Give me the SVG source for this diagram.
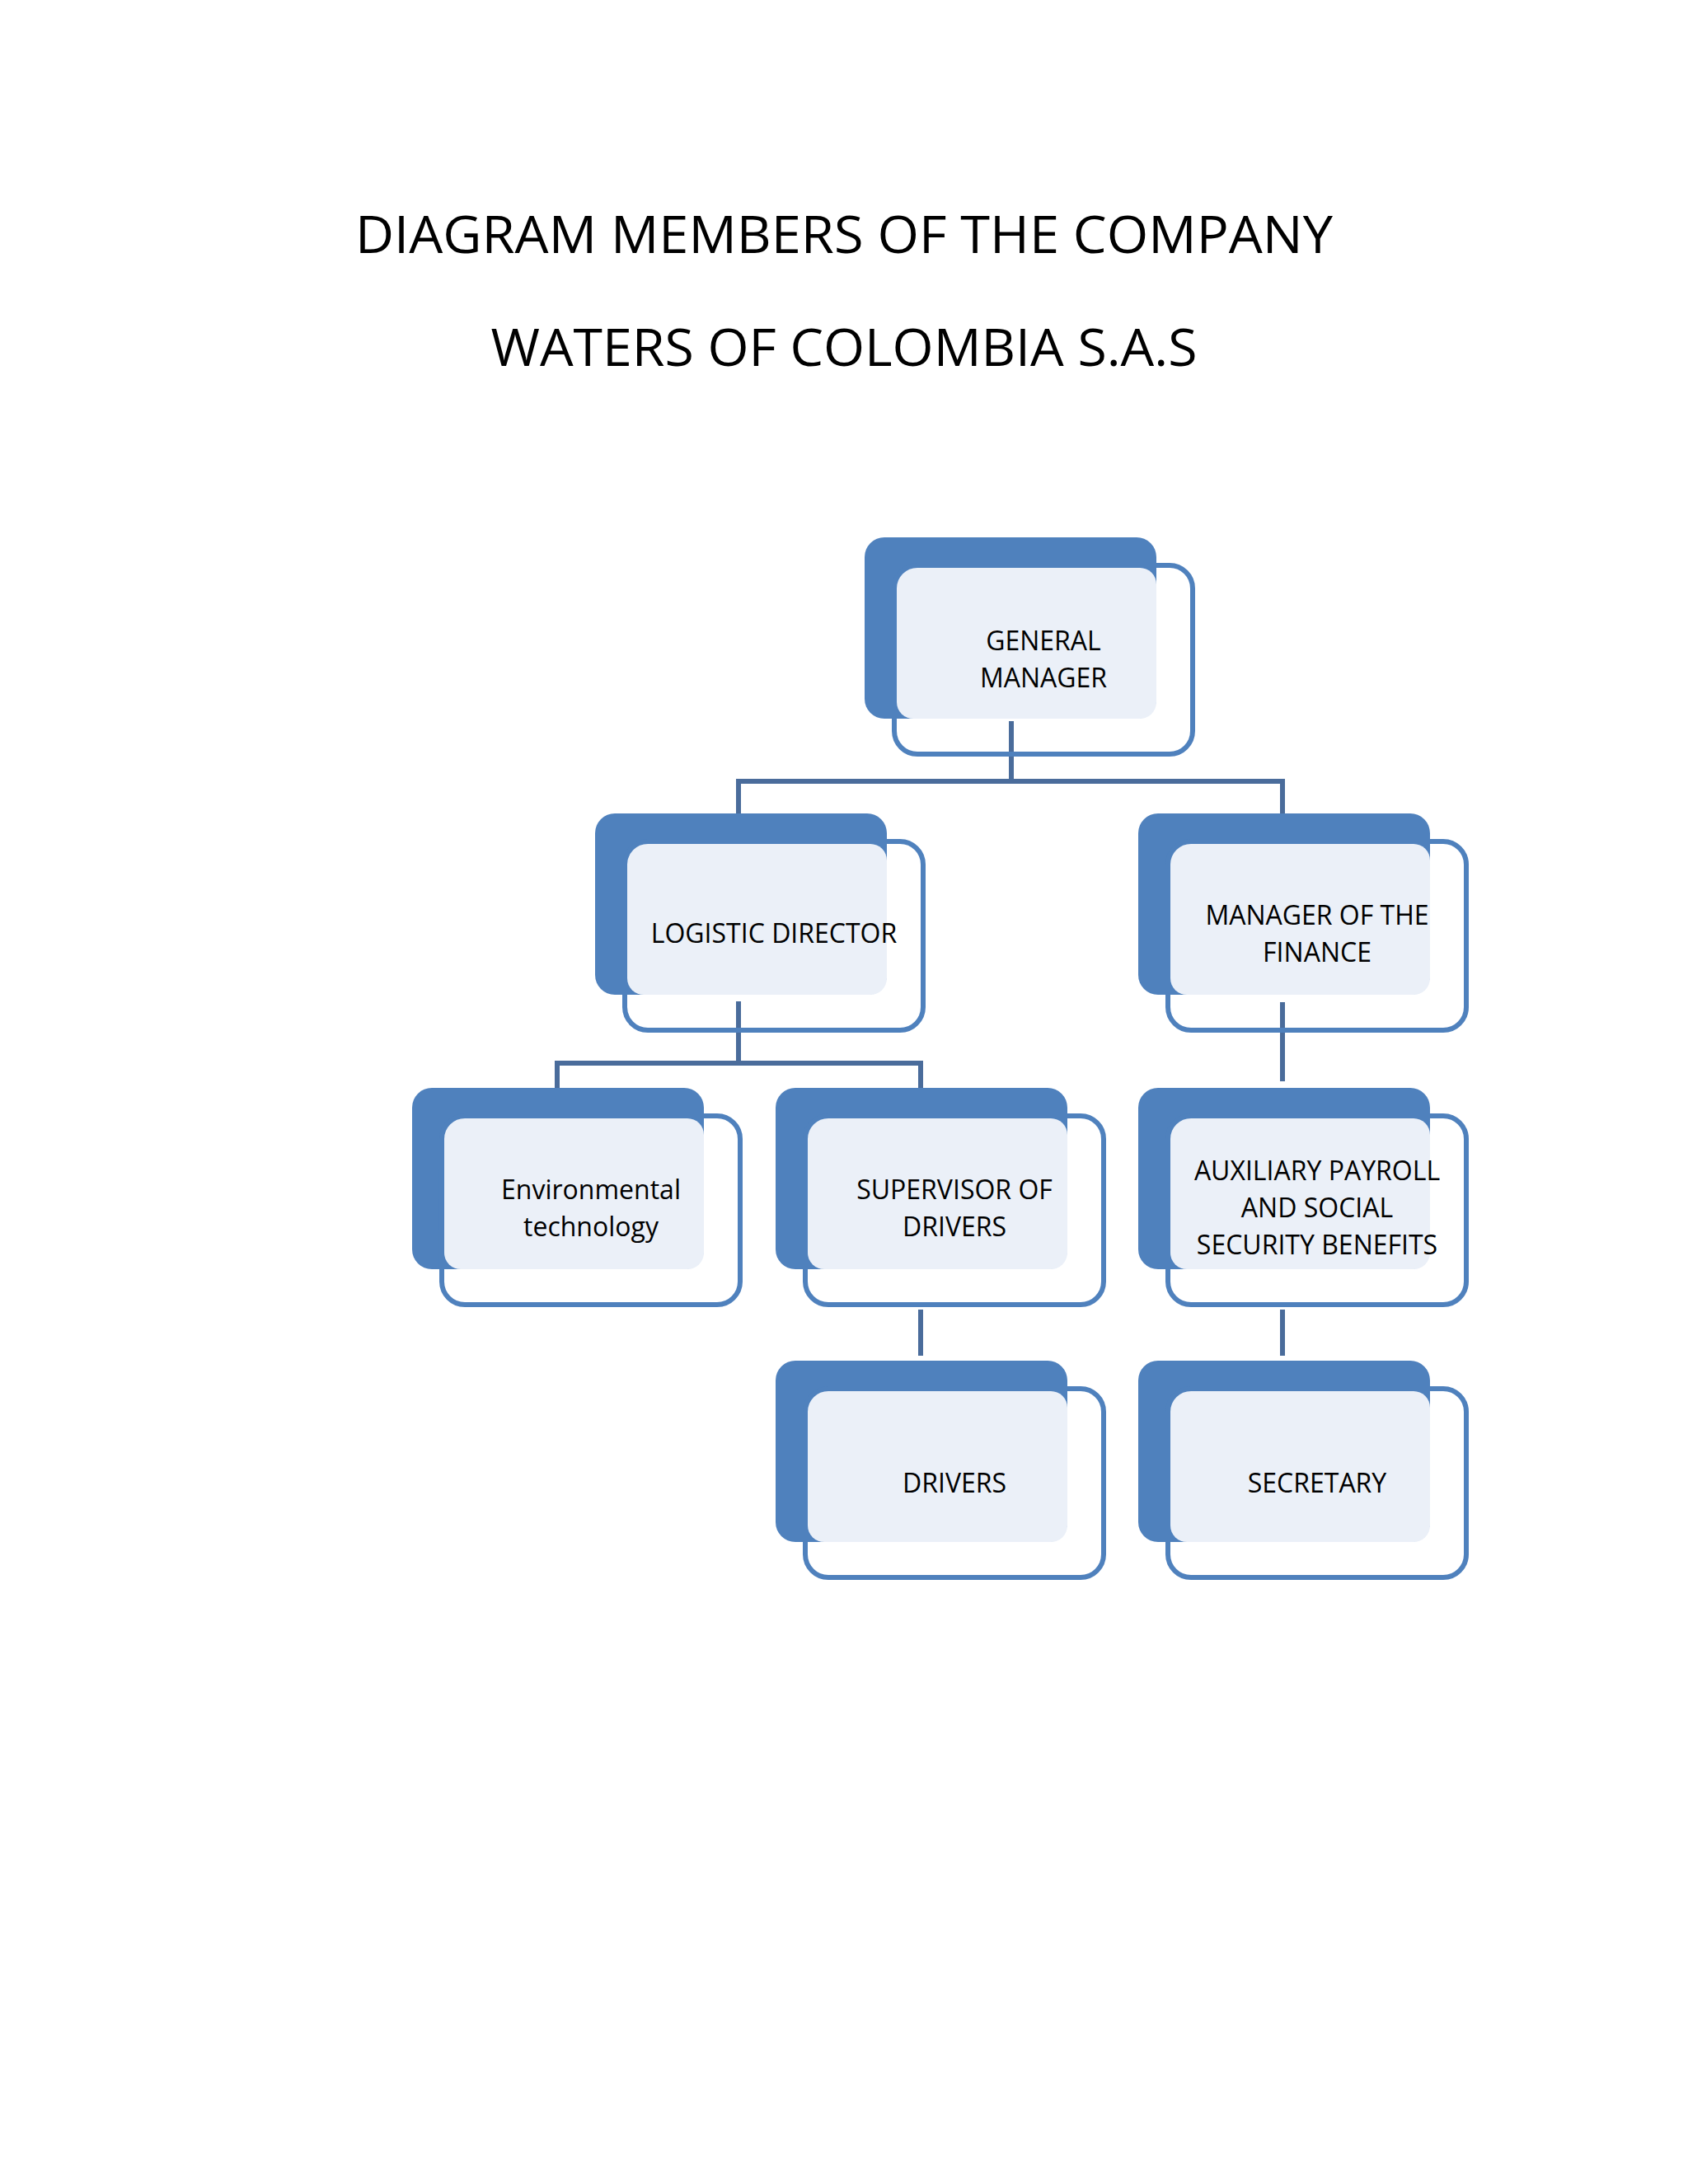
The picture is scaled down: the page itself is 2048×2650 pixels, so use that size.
<svg xmlns="http://www.w3.org/2000/svg" width="2048" height="2650" viewBox="0 0 2048 2650">
<style>
.back{fill:#4f81bd}
.lite{fill:#ebf0f8}
.front{fill:none;stroke:#4f81bd;stroke-width:6}
.t{font-family:"Open Sans","DejaVu Sans",sans-serif;font-size:32px;fill:#000;text-anchor:middle}
.title{font-family:"Open Sans","DejaVu Sans",sans-serif;font-size:62px;fill:#000;text-anchor:middle}
.c{fill:none;stroke:#4a6c9b;stroke-width:6}
</style>
<defs>
<g id="box">
<rect class="back" x="0" y="0" width="354" height="220" rx="24"/>
<rect class="lite" x="39" y="37" width="315" height="183" rx="20"/>
<rect class="front" x="36" y="34" width="362" height="229" rx="28"/>
</g>
</defs>
<rect width="2048" height="2650" fill="#fff"/>
<text class="title" x="1024" y="307" textLength="1186" lengthAdjust="spacingAndGlyphs">DIAGRAM MEMBERS OF THE COMPANY</text>
<text class="title" x="1024" y="444" textLength="857" lengthAdjust="spacingAndGlyphs">WATERS OF COLOMBIA S.A.S</text>
<g id="connectors">
<path class="c" d="M1227 875V948M896 987V948H1556V987"/>
<path class="c" d="M896 1215V1290M676 1320V1290H1117V1320"/>
<path class="c" d="M1556 1216V1312"/>
<path class="c" d="M1556 1589V1645"/>
<path class="c" d="M1117 1589V1645"/>
</g>
<g id="gm"><use href="#box" x="1049" y="652"/><text class="t" x="1266" y="789">GENERAL</text><text class="t" x="1266" y="834">MANAGER</text></g>
<g id="logistic"><use href="#box" x="722" y="987"/><text class="t" x="939" y="1144">LOGISTIC DIRECTOR</text></g>
<g id="finance"><use href="#box" x="1381" y="987"/><text class="t" x="1598" y="1122">MANAGER OF THE</text><text class="t" x="1598" y="1167">FINANCE</text></g>
<g id="env"><use href="#box" x="500" y="1320"/><text class="t" x="717" y="1455">Environmental</text><text class="t" x="717" y="1500">technology</text></g>
<g id="supervisor"><use href="#box" x="941" y="1320"/><text class="t" x="1158" y="1455">SUPERVISOR OF</text><text class="t" x="1158" y="1500">DRIVERS</text></g>
<g id="aux"><use href="#box" x="1381" y="1320"/><text class="t" x="1598" y="1432">AUXILIARY PAYROLL</text><text class="t" x="1598" y="1477">AND SOCIAL</text><text class="t" x="1598" y="1522">SECURITY BENEFITS</text></g>
<g id="drivers"><use href="#box" x="941" y="1651"/><text class="t" x="1158" y="1811">DRIVERS</text></g>
<g id="secretary"><use href="#box" x="1381" y="1651"/><text class="t" x="1598" y="1811">SECRETARY</text></g>
</svg>
